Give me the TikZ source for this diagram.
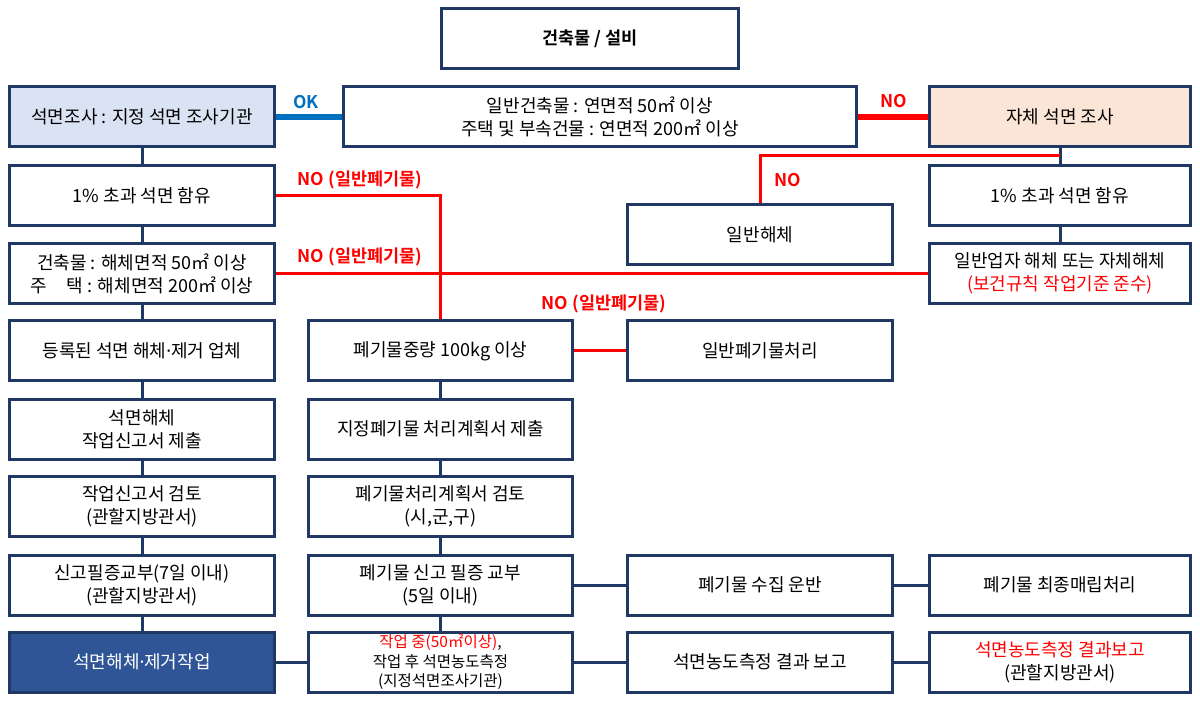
\documentclass[tikz,border=0pt]{standalone}
\usepackage{fontspec}
\setmainfont{Noto Sans CJK KR}[BoldFont={Noto Sans CJK KR Bold}]
\newfontfamily\latinf{Noto Sans}
\newcommand{\md}{{\latinf ·}}
\definecolor{navy}{HTML}{1F3864}
\definecolor{lblue}{HTML}{DAE3F3}
\definecolor{peach}{HTML}{FBE5D6}
\definecolor{dblue}{HTML}{2F5597}
\definecolor{okblue}{HTML}{0070C0}
\definecolor{rred}{HTML}{FF0000}
\begin{document}
\begin{tikzpicture}[x=1pt,y=-1pt,
  box/.style={draw=navy, line width=3pt, fill=white, minimum height=60pt, align=center,
    inner sep=0pt, text=black, font=\fontsize{18}{23}\selectfont},
  colL/.style={minimum width=265pt},
  colM/.style={minimum width=264pt},
  colC/.style={minimum width=265pt},
  colR/.style={minimum width=261pt},
  conn/.style={draw=navy, line width=3pt},
  redl/.style={draw=rred, line width=3pt},
  lbl/.style={font=\bfseries\fontsize{17.5}{19}\selectfont, text=rred, inner sep=0pt}]
\useasboundingbox (0,0) rectangle (1200,703);
% top
\node[box, minimum width=297pt, font=\bfseries\fontsize{17.5}{23}\selectfont] (T) at (590,38.5) {건축물 / 설비};
% row 1
\node[box, colL, fill=lblue] (L1) at (142,117) {석면조사 : 지정 석면 조사기관};
\node[box, minimum width=513pt] (M1) at (600,117) {일반건축물 : 연면적 50㎡ 이상\\주택 및 부속건물 : 연면적 200㎡ 이상};
\node[box, colR, fill=peach] (R1) at (1060,117) {자체 석면 조사};
% left column
\node[box, colL] (L2) at (142,195.5) {1\% 초과 석면 함유};
\node[box, colL] (L3) at (142,273.5) {건축물 : 해체면적 50㎡ 이상\\주\hspace{1.1em}택 : 해체면적 200㎡ 이상};
\node[box, colL] (L4) at (142,351) {등록된 석면 해체\md 제거 업체};
\node[box, colL] (L5) at (142,429) {석면해체\\작업신고서 제출};
\node[box, colL] (L6) at (142,506.5) {작업신고서 검토\\(관할지방관서)};
\node[box, colL] (L7) at (142,585) {신고필증교부(7일 이내)\\(관할지방관서)};
\node[box, colL, fill=dblue, text=white] (L8) at (142,662) {석면해체\md 제거작업};
% middle column
\node[box, colM] (M4) at (440.5,351) {폐기물중량 100kg 이상};
\node[box, colM] (M5) at (440.5,429) {지정폐기물 처리계획서 제출};
\node[box, colM] (M6) at (440.5,506.5) {폐기물처리계획서 검토\\(시,군,구)};
\node[box, colM] (M7) at (440.5,585) {폐기물 신고 필증 교부\\(5일 이내)};
\node[box, colM, font=\fontsize{15.5}{19.5}\selectfont] (M8) at (440.5,662) {\textcolor{rred}{작업 중(50㎡이상)},\\작업 후 석면농도측정\\(지정석면조사기관)};
% third column
\node[box, colC] (C2) at (760,235) {일반해체};
\node[box, colC] (C4) at (760,351) {일반폐기물처리};
\node[box, colC] (C7) at (760,585) {폐기물 수집 운반};
\node[box, colC] (C8) at (760,662) {석면농도측정 결과 보고};
% right column
\node[box, colR] (R2) at (1060,195.5) {1\% 초과 석면 함유};
\node[box, colR] (R3) at (1060,273.5) {일반업자 해체 또는 자체해체\\\textcolor{rred}{(보건규칙 작업기준 준수)}};
\node[box, colR] (R7) at (1060,585) {폐기물 최종매립처리};
\node[box, colR] (R8) at (1060,662) {\textcolor{rred}{석면농도측정 결과보고}\\(관할지방관서)};
% navy connectors
\draw[conn] (L1) -- (L2);
\draw[conn] (L2) -- (L3);
\draw[conn] (L3) -- (L4);
\draw[conn] (L4) -- (L5);
\draw[conn] (L5) -- (L6);
\draw[conn] (L6) -- (L7);
\draw[conn] (L7) -- (L8);
\draw[conn] (M4) -- (M5);
\draw[conn] (M5) -- (M6);
\draw[conn] (M6) -- (M7);
\draw[conn] (M7) -- (M8);
\draw[conn] (L8) -- (M8);
\draw[conn] (M7) -- (C7);
\draw[conn] (C7) -- (R7);
\draw[conn] (M8) -- (C8);
\draw[conn] (C8) -- (R8);
\draw[conn] (R1) -- (R2);
\draw[conn] (R2) -- (R3);
% red connectors
\coordinate (rj) at (1060,156);
\draw[redl] (rj) -| (C2.north);
\draw[redl] (L2.east) -| (M4.north);
\draw[redl] (L3.east) -- (R3.west);
\draw[redl] (M4.east) -- (C4.west);
% thick
\draw[draw=okblue, line width=6pt] (L1.east) -- (M1.west);
\draw[draw=rred, line width=6pt] (M1.east) -- (R1.west);
% labels
\node[lbl, text=okblue] (ok) at (306,102) {OK};
\node[lbl] (no1) at (894,101) {NO};
\node[lbl] (no2) at (788,180) {NO};
\node[lbl] (no3) at (360,180) {NO (일반폐기물)};
\node[lbl] (no4) at (360,257) {NO (일반폐기물)};
\node[lbl] (no5) at (604,304) {NO (일반폐기물)};
\end{tikzpicture}
\end{document}
